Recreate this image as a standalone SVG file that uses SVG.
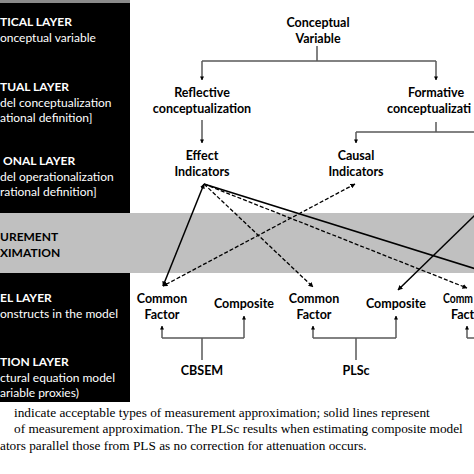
<svg xmlns="http://www.w3.org/2000/svg" width="474" height="474" viewBox="0 0 474 474">
<defs>
<marker id="ah" viewBox="0 0 10 10" refX="9" refY="5" markerWidth="5" markerHeight="5" orient="auto-start-reverse" markerUnits="userSpaceOnUse">
<path d="M0,0 L10,5 L0,10 z" fill="#000"/>
</marker>
<marker id="ahs" viewBox="0 0 10 10" refX="9" refY="5" markerWidth="4" markerHeight="4" orient="auto" markerUnits="userSpaceOnUse">
<path d="M0,0 L10,5 L0,10 z" fill="#000"/>
</marker>
</defs>
<style>
.panel{font-family:Lato,"Liberation Sans",sans-serif;font-size:12px;fill:#fff}
.panel .t{font-weight:bold}
.panel .d{fill:#000}
.lbl{font-family:Lato,"Liberation Sans",sans-serif;font-size:12.5px;font-weight:bold;fill:#000;text-anchor:middle}
.lbls{font-family:Lato,"Liberation Sans",sans-serif;font-size:12.5px;font-weight:bold;fill:#000}
.tree{stroke:#5a5a5a;stroke-width:1.5;fill:none}
.tarr{stroke:#5a5a5a;stroke-width:1.5;fill:none;marker-end:url(#ahs)}
.sol{stroke:#000;stroke-width:1.5;fill:none}
.dsh{stroke:#000;stroke-width:1.3;fill:none;stroke-dasharray:4 2}
.cap{font-family:"Liberation Serif",serif;font-size:13.3px;fill:#000}
</style>
<rect width="474" height="474" fill="#fff"/>
<g id="background">
<rect x="0" y="0" width="130" height="3" fill="#8a8a8a"/>
<rect x="0" y="3" width="130" height="210" fill="#000"/>
<rect x="0" y="213" width="474" height="60" fill="#c0c0c0"/>
<rect x="0" y="273" width="130" height="129" fill="#000"/>
</g>
<g id="layers" class="panel">
<text x="0" y="26" class="t">TICAL LAYER</text>
<text x="0" y="42">onceptual variable</text>
<text x="0" y="91" class="t">TUAL LAYER</text>
<text x="0" y="107">del conceptualization</text>
<text x="0" y="122">ational definition]</text>
<text x="3" y="165" class="t">ONAL LAYER</text>
<text x="0" y="181">del operationalization</text>
<text x="0" y="196">rational definition]</text>
<text x="0" y="241" class="t d">UREMENT</text>
<text x="0" y="257" class="t d">XIMATION</text>
<text x="0" y="302" class="t">EL LAYER</text>
<text x="0" y="318">onstructs in the model</text>
<text x="0" y="366" class="t">TION LAYER</text>
<text x="0" y="382">ctural equation model</text>
<text x="0" y="397">ariable proxies)</text>
</g>
<g id="connectors">
<path class="tree" d="M317,46 V61 M202,61 H436"/>
<path class="tarr" d="M202,61 V80"/>
<path class="tarr" d="M436,61 V80"/>
<path class="tarr" d="M202,120 V143"/>
<path class="tree" d="M436,122 V132 M356,132 H474"/>
<path class="tarr" d="M356,132 V143"/>
<line class="sol" x1="204" y1="184" x2="163" y2="286" marker-start="url(#ah)" marker-end="url(#ah)"/>
<line class="dsh" x1="355" y1="184" x2="163" y2="286" marker-start="url(#ah)" marker-end="url(#ah)"/>
<line class="dsh" x1="204" y1="184" x2="313" y2="287" marker-end="url(#ah)"/>
<line class="dsh" x1="204" y1="184" x2="467" y2="288" marker-end="url(#ah)"/>
<line class="sol" x1="204" y1="184" x2="476" y2="269"/>
<line class="sol" x1="476" y1="214" x2="398" y2="290" marker-end="url(#ah)"/>
<path class="tree" d="M162,338 H244 M202,338 V360"/>
<path class="tarr" d="M162,338 V326"/>
<path class="tarr" d="M244,338 V316"/>
<path class="tree" d="M313,338 H396 M356,338 V360"/>
<path class="tarr" d="M313,338 V326"/>
<path class="tarr" d="M396,338 V316"/>
<path class="tree" d="M467,338 H474"/>
<path class="tarr" d="M467,338 V326"/>
</g>
<g id="conceptual-variable"><text class="lbl" x="318" y="27">Conceptual</text><text class="lbl" x="318" y="43">Variable</text></g>
<g id="reflective"><text class="lbl" x="202" y="97">Reflective</text><text class="lbl" x="202" y="113">conceptualization</text></g>
<g id="formative"><text class="lbl" x="436" y="97">Formative</text><text class="lbls" x="387" y="113">conceptualizati</text></g>
<g id="effect-indicators"><text class="lbl" x="202" y="160">Effect</text><text class="lbl" x="202" y="176">Indicators</text></g>
<g id="causal-indicators"><text class="lbl" x="356" y="160">Causal</text><text class="lbl" x="356" y="176">Indicators</text></g>
<g id="cf1"><text class="lbl" x="162" y="303">Common</text><text class="lbl" x="162" y="319">Factor</text></g>
<g id="comp1"><text class="lbl" x="244" y="308">Composite</text></g>
<g id="cf2"><text class="lbl" x="314" y="303">Common</text><text class="lbl" x="314" y="319">Factor</text></g>
<g id="comp2"><text class="lbl" x="396" y="308">Composite</text></g>
<g id="cf3"><text class="lbls" x="443" y="303" textLength="30" lengthAdjust="spacingAndGlyphs">Comm</text><text class="lbls" x="451" y="319">Fact</text></g>
<g id="cbsem"><text class="lbl" x="202" y="375">CBSEM</text></g>
<g id="plsc"><text class="lbl" x="356" y="375">PLSc</text></g>
<g id="caption" class="cap">
<text x="14" y="417">indicate acceptable types of measurement approximation; solid lines represent</text>
<text x="14" y="433">of measurement approximation. The PLSc results when estimating composite model</text>
<text x="0" y="450">ators parallel those from PLS as no correction for attenuation occurs.</text>
</g>
</svg>
